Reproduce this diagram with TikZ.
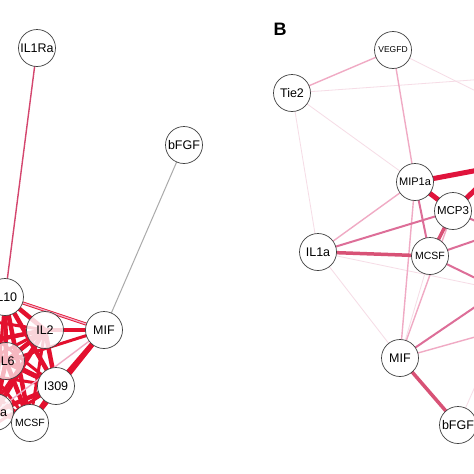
\documentclass[tikz,border=0pt]{standalone}
\usepackage{fontspec}
\setmainfont{Liberation Sans}
\usetikzlibrary{backgrounds}

\definecolor{hotred}{HTML}{E3102E}
\definecolor{deepred}{HTML}{E0143C}
\definecolor{rosered}{HTML}{D4466E}
\definecolor{midpink}{HTML}{DD6E98}
\definecolor{lightpink}{HTML}{F0AAC4}
\definecolor{palepink}{HTML}{F6DCE6}
\definecolor{linkgray}{HTML}{AAAAAA}

\begin{document}
\begin{tikzpicture}[
  x=1pt, y=-1pt,
  gene/.style={circle, draw=black!75, line width=0.7pt, fill=white, minimum size=37pt, inner sep=0pt, font=\fontsize{12.5}{12.5}\selectfont},
  seethru/.style={fill opacity=0.7, text opacity=1},
  smalltext/.style={font=\fontsize{10.5}{10.5}\selectfont},
  tinytext/.style={font=\fontsize{8.5}{8.5}\selectfont},
  panel/.style={font=\fontsize{18}{18}\selectfont\bfseries},
  corelink/.style={draw=hotred, line width=4.5pt},
  redlink/.style={draw=hotred, line width=3pt},
  hotlink/.style={draw=deepred, line width=5pt},
  thicklink/.style={draw=rosered!90!pink, line width=3.5pt},
  midlink/.style={draw=midpink, line width=2pt},
  lightlink/.style={draw=lightpink, line width=1.4pt},
  faintlink/.style={draw=palepink, line width=0.8pt},
]
\useasboundingbox (0,0) rectangle (474,474);

\begin{scope}
\clip (0,0) rectangle (474,474);

% Panel A
\node[gene] (IL1Ra) at (37,48) {IL1Ra};
\node[gene] (bFGFa) at (184,145) {bFGF};
\node[gene] (IL10) at (5,297) {IL10};
\node[gene, fill opacity=0.82, text opacity=1] (IL2) at (45,330) {IL2};
\node[gene] (MIFa) at (104,330) {MIF};
\node[gene, seethru] (IL6) at (6,361) {IL6};
\node[gene] (I309) at (56,386) {I309};
\node[gene, fill opacity=0.85, text opacity=1] (IL1aA) at (-5,412) {IL1a};
\node[gene, smalltext] (MCSFa) at (30,423) {MCSF};

% Panel B
\node[panel] (labB) at (280,29) {B};
\node[gene, tinytext] (VEGFD) at (393,50) {VEGFD};
\node[gene] (Tie2) at (292,93) {Tie2};
\node[gene, font=\fontsize{11}{11}\selectfont] (MIP1a) at (415,182) {MIP1a};
\node[gene, font=\fontsize{11.5}{11.5}\selectfont] (MCP3) at (453,211) {MCP3};
\node[gene] (IL1aB) at (318,252) {IL1a};
\node[gene, smalltext] (MCSFb) at (430,256) {MCSF};
\node[gene] (MIFb) at (400,358) {MIF};
\node[gene] (bFGFb) at (458,425) {bFGF};

% off-picture ends
\coordinate (offA1) at (-30,318);
\coordinate (offA2) at (-35,372);
\coordinate (offA3) at (-30,440);
\coordinate (offA4) at (-30,345);
\coordinate (offR0) at (500,103);
\coordinate (offR0b) at (500,78);
\coordinate (offR1) at (500,166);
\coordinate (offR2) at (500,232);
\coordinate (offR3) at (500,290);
\coordinate (offR4) at (500,330);
\end{scope}

\begin{scope}[on background layer]
\clip (0,0) rectangle (474,474);
\fill[white] (0,0) rectangle (474,474);

% Panel A links
\draw[draw=rosered, line width=1.4pt] (IL1Ra.center) -- (IL10.center);
\draw[draw=linkgray, line width=1pt] (bFGFa.center) -- (MIFa.center);
\foreach \a/\b in {IL10/IL2, IL10/IL6, IL10/I309, IL10/MCSFa, IL2/IL6, IL2/I309,
  IL2/IL1aA, IL6/I309, IL6/IL1aA, IL6/MCSFa, I309/IL1aA, I309/MCSFa, IL1aA/MCSFa,
  MIFa/IL2, MIFa/I309, MIFa/MCSFa, offA4/IL2, offA4/I309}
  \draw[corelink] (\a.center) -- (\b.center);
\foreach \a/\b in {IL10/IL1aA, IL2/MCSFa, MIFa/IL10, MIFa/IL6, offA1/IL2, offA1/I309,
  offA2/IL2, offA2/I309, offA2/MCSFa, offA3/I309, offA1/IL6, offA3/IL2, offA4/MCSFa}
  \draw[redlink] (\a.center) -- (\b.center);
\draw[lightlink] (MIFa.center) -- (IL1aA.center);
\draw[lightlink] (MIFa.center) -- (IL10.center);

% Panel B links
\foreach \a/\b in {VEGFD/offR0, Tie2/offR0b, Tie2/MIP1a, Tie2/IL1aB, IL1aB/MIFb,
  IL1aB/offR3, MCSFb/MIFb, bFGFb/offR4}
  \draw[faintlink] (\a.center) -- (\b.center);
\foreach \a/\b in {Tie2/VEGFD, VEGFD/MIP1a, MIP1a/IL1aB, MIP1a/MIFb, MCP3/MIFb, MIFb/offR4}
  \draw[lightlink] (\a.center) -- (\b.center);
\foreach \a/\b in {MIP1a/MCSFb, MCP3/IL1aB, MCP3/offR2, MCSFb/offR2, MCSFb/offR3, MIFb/offR3}
  \draw[midlink] (\a.center) -- (\b.center);
\foreach \a/\b in {IL1aB/MCSFb, MCP3/MCSFb, MIFb/bFGFb}
  \draw[thicklink] (\a.center) -- (\b.center);
\foreach \a/\b in {MIP1a/offR1, MIP1a/MCP3, MCP3/offR1}
  \draw[hotlink] (\a.center) -- (\b.center);
\end{scope}

\end{tikzpicture}
\end{document}
